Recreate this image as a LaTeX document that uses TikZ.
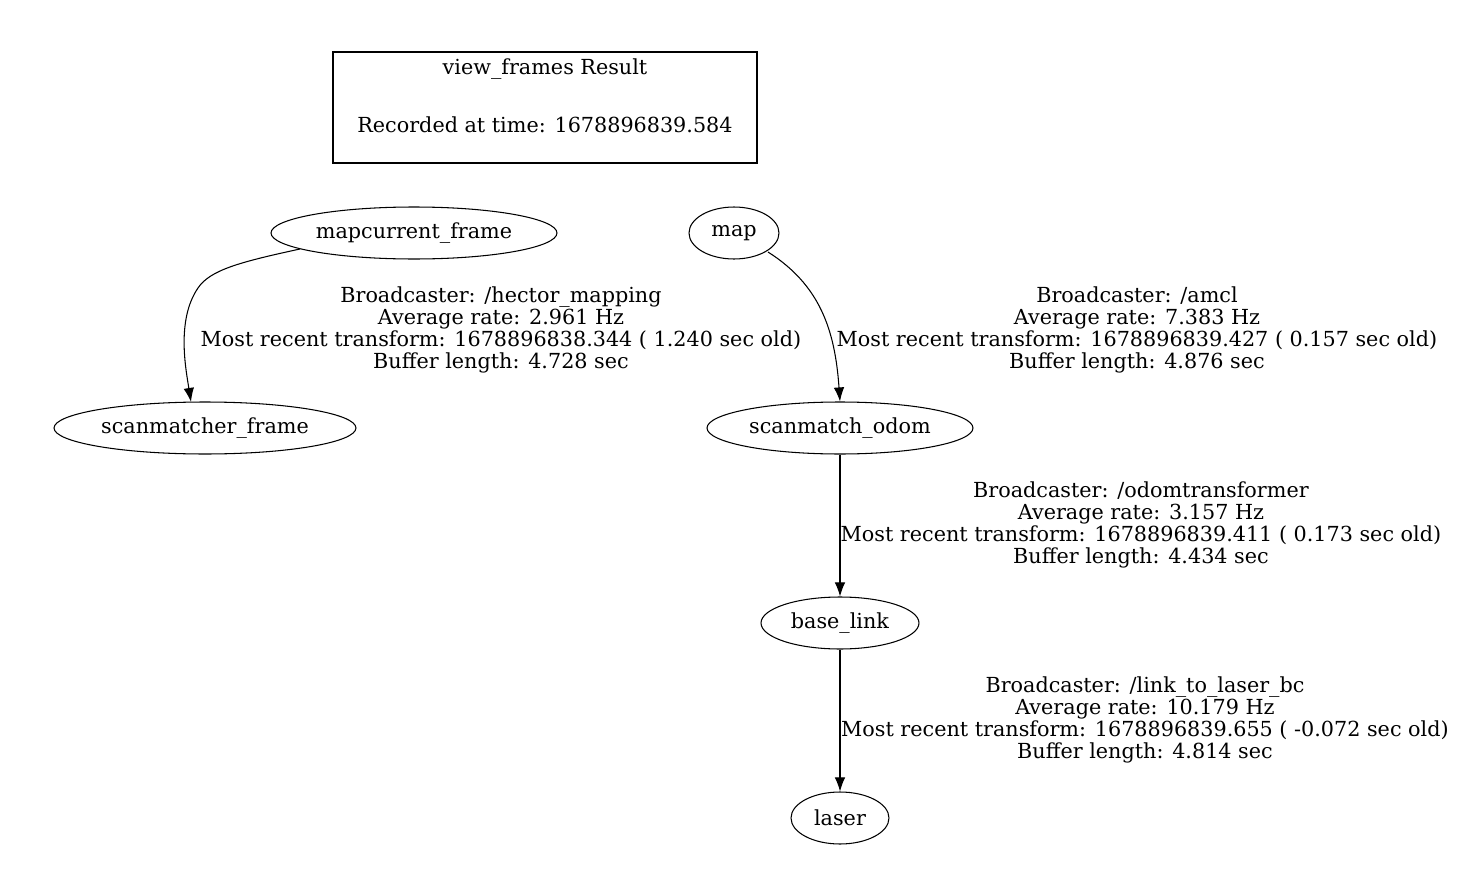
\documentclass[tikz,border=0pt]{standalone}
\usepackage{fontspec}
\setmainfont{DejaVu Serif}
\usetikzlibrary{shapes.geometric,arrows.meta}
\begin{document}
\begin{tikzpicture}[x=0.02cm, y=-0.02cm, font=\fontsize{11.8}{12.5}\selectfont, semithick,
  frameStyle/.style={ellipse, draw, inner sep=0pt, minimum height=1.04cm},
  edgeStyle/.style={-{Latex[length=8pt,width=6pt]}},
  labelStyle/.style={align=center, font=\fontsize{11.8}{12.5}\selectfont}]
\useasboundingbox (0,0) rectangle (1472,872);
\node[draw, thick, minimum width=8.48cm, minimum height=2.22cm] (title) at (545,107.5) {};
\node (title_a) at (545,69) {view\_frames Result};
\node (title_b) at (545,125) {Recorded at time: 1678896839.584};

\node[frameStyle, minimum width=5.72cm] (mapcurrent) at (414,233) {mapcurrent\_frame};
\node[frameStyle, minimum width=1.8cm] (map) at (734,233) {map};
\node[frameStyle, minimum width=6.04cm] (scanmatcher) at (205,428) {scanmatcher\_frame};
\node[frameStyle, minimum width=5.32cm] (odom) at (840,428) {scanmatch\_odom};
\node[frameStyle, minimum width=3.16cm] (base) at (840,623) {base\_link};
\node[frameStyle, minimum width=1.96cm] (laser) at (840,818) {laser};

\coordinate (mc_out) at (300,249);
\coordinate (map_out) at (768,252);
\draw[edgeStyle] (mc_out) .. controls (240,262) and (210,270) .. (198,288) .. controls (176,320) and (186,370) .. (191,402);
\draw[edgeStyle] (map_out) .. controls (820,285) and (835,330) .. (odom.north);
\draw[edgeStyle] (odom) -- (base);
\draw[edgeStyle] (base) -- (laser);

\node[labelStyle] (lbl1) at (501,330) {Broadcaster: /hector\_mapping\\Average rate: 2.961 Hz\\Most recent transform: 1678896838.344 ( 1.240 sec old)\\Buffer length: 4.728 sec};
\node[labelStyle] (lbl2) at (1137,330) {Broadcaster: /amcl\\Average rate: 7.383 Hz\\Most recent transform: 1678896839.427 ( 0.157 sec old)\\Buffer length: 4.876 sec};
\node[labelStyle] (lbl3) at (1141,525) {Broadcaster: /odomtransformer\\Average rate: 3.157 Hz\\Most recent transform: 1678896839.411 ( 0.173 sec old)\\Buffer length: 4.434 sec};
\node[labelStyle] (lbl4) at (1145,720) {Broadcaster: /link\_to\_laser\_bc\\Average rate: 10.179 Hz\\Most recent transform: 1678896839.655 ( -0.072 sec old)\\Buffer length: 4.814 sec};
\end{tikzpicture}
\end{document}
